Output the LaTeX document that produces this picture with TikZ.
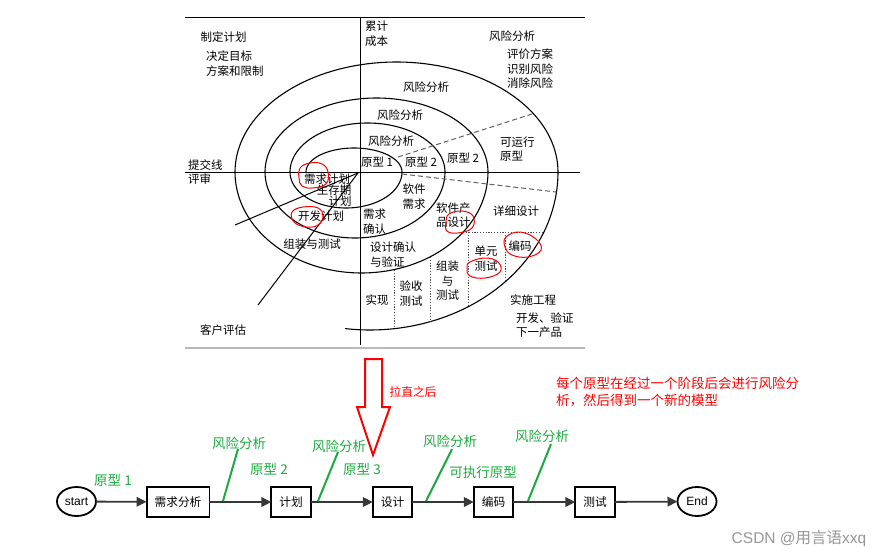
\documentclass[tikz,border=0pt]{standalone}
\usepackage{fontspec}
\setmainfont{Noto Sans CJK SC}
\newfontfamily\arialf{Liberation Sans}
\usetikzlibrary{arrows.meta,shapes.geometric}
\definecolor{mygreen}{RGB}{28,170,64}
\definecolor{arrowgray}{RGB}{55,55,55}
\definecolor{wmgray}{RGB}{150,150,150}
\begin{document}
\begin{tikzpicture}[x=1pt,y=-1pt,
  every node/.style={inner sep=0pt, outer sep=0pt},
  sptext/.style={font=\fontsize{11.5}{14.5}\selectfont, align=left},
  sp/.style={line width=1.1pt, line join=round},
  axisln/.style={line width=1pt},
  dashln/.style={line width=1pt, draw=gray!75!black, dash pattern=on 5pt off 3pt},
  dotln/.style={line width=0.8pt, draw=gray!60!black, dash pattern=on 1.2pt off 1.6pt},
  redmark/.style={draw=red, line width=1pt},
  box/.style={draw, line width=1.8pt, inner xsep=8pt, minimum height=30pt, fill=white, font=\fontsize{11.7}{14}\selectfont},
  term/.style={draw, ellipse, line width=1.8pt, minimum width=39pt, minimum height=29pt, fill=white, font=\arialf\fontsize{12}{14}\selectfont},
  flow/.style={line width=1.8pt, draw=arrowgray, -{Triangle[length=10pt,width=9.5pt]}},
  gline/.style={line width=2pt, draw=mygreen},
  gtext/.style={text=mygreen, font=\fontsize{13.5}{16}\selectfont},
  redtext/.style={text=red, font=\fontsize{13.5}{17}\selectfont, align=left},
]
\useasboundingbox (0,0) rectangle (885,559);

% ---------- spiral figure frame ----------
\draw[axisln] (185,18) -- (585,18);
\draw[axisln] (360,18) -- (360,345);
\draw[axisln] (185,172) -- (580,172);
\draw[line width=2pt, draw=gray!55] (185,348) -- (585,348);

% ---------- spiral ----------
\draw[sp] plot[domain=180:360,samples=40] ({354+48*cos(\x)},{172+24*sin(\x)})
 -- plot[domain=0:180,samples=50] ({346+56*cos(\x)},{172+36*sin(\x)})
 -- plot[domain=180:360,samples=60] ({367.5+77.5*cos(\x)},{172+49*sin(\x)})
 -- plot[domain=0:180,samples=60] ({355+90*cos(\x)},{172+66*sin(\x)})
 -- plot[domain=180:360,samples=70] ({376.5+111.5*cos(\x)},{172+74*sin(\x)})
 -- plot[domain=0:180,samples=70] ({361.5+126.5*cos(\x)},{172+101*sin(\x)})
 -- plot[domain=180:360,samples=80] ({396.5+161.5*cos(\x)},{172+110*sin(\x)})
 -- plot[domain=0:97.6,samples=60] ({370+188*cos(\x)},{172+158*sin(\x)});

% customer evaluation lines
\coordinate (ctr) at (358,173);
\coordinate (ce1) at (235,225);
\coordinate (ce2) at (258,305);
\draw[line width=1pt] (ce1) -- (ctr);
\draw[line width=1pt] (ce2) -- (ctr);

% dashed lines
\coordinate (du1) at (398,157); \coordinate (du2) at (532,114);
\coordinate (dl1) at (402,174); \coordinate (dl2) at (556,192);
\draw[dashln] (du1) -- (du2);
\draw[dashln] (dl1) -- (dl2);

% dotted lines
\coordinate (v1a) at (394,270); \coordinate (v1b) at (394,328.7);
\coordinate (v2a) at (430,257); \coordinate (v2b) at (430,321.7);
\coordinate (v3a) at (468,232); \coordinate (v3b) at (468,306.8);
\coordinate (v4a) at (505,232); \coordinate (v4b) at (505,282);
\coordinate (h1a) at (466,232); \coordinate (h1b) at (544,232);
\draw[dotln] (v1a) -- (v1b);
\draw[dotln] (v2a) -- (v2b);
\draw[dotln] (v3a) -- (v3b);
\draw[dotln] (v4a) -- (v4b);
\draw[dotln] (h1a) -- (h1b);

% ---------- spiral texts ----------
\node[sptext] (t1) at (223.5,37) {制定计划};
\node[sptext, anchor=west] (t2) at (206,63.5) {决定目标\\方案和限制};
\node[sptext, anchor=west] (t3) at (365,33.5) {累计\\成本};
\node[sptext] (t4) at (512,36) {风险分析};
\node[sptext, anchor=west] (t5) at (507,69) {评价方案\\识别风险\\消除风险};
\node[sptext] (r1) at (426,87) {风险分析};
\node[sptext] (r2) at (400,115) {风险分析};
\node[sptext] (r3) at (391,141) {风险分析};
\node[sptext] (p1) at (377,162) {原型 1};
\node[sptext] (p2) at (421,162) {原型 2};
\node[sptext] (p3) at (463,158) {原型 2};
\node[sptext, anchor=west] (p4) at (500,149) {可运行\\原型};
\node[sptext, anchor=west] (t6) at (188,172) {提交线\\评审};
\node[sptext] (l1) at (327,179) {需求计划};
\node[sptext] (l2) at (334,190) {生存期};
\node[sptext] (l3) at (340,201) {计划};
\node[sptext] (l4) at (321,216) {开发计划};
\node[sptext] (l5) at (312,244) {组装与测试};
\node[sptext] (l6) at (223,330) {客户评估};
\node[sptext] (b1) at (414,196.5) {软件\\需求};
\node[sptext, anchor=west] (b2) at (363,221.5) {需求\\确认};
\node[sptext, anchor=west] (b3) at (436,215) {软件产\\品设计};
\node[sptext, anchor=west] (b4) at (370,254.5) {设计确认\\与验证};
\node[sptext] (b5) at (516,211) {详细设计};
\node[sptext, align=center] (b6) at (486,258.5) {单元\\测试};
\node[sptext] (b7) at (520,246) {编码};
\node[sptext, align=center] (b8) at (447.5,281) {组装\\与\\测试};
\node[sptext, align=center] (b9) at (411,293.5) {验收\\测试};
\node[sptext] (b10) at (377,300) {实现};
\node[sptext] (b11) at (533,300) {实施工程};
\node[sptext, anchor=west] (b12) at (516,325) {开发、验证\\下一产品};

% red hand-drawn marks
\draw[redmark] plot[smooth cycle, tension=0.7] coordinates {(300,168) (310,163) (322,164) (328,172) (326,184) (312,188) (302,186) (299,178)};
\draw[redmark] plot[smooth cycle, tension=0.7] coordinates {(292,212) (303,207) (318,208) (323,216) (318,225) (306,227) (294,222)};
\draw[redmark] plot[smooth cycle, tension=0.7] coordinates {(449,214) (462,211) (473,216) (472,228) (458,233) (447,231) (446,222)};
\draw[redmark] plot[smooth cycle, tension=0.7] coordinates {(506,237) (520,232) (536,239) (541,250) (528,257) (512,255) (505,247)};
\draw[redmark] plot[smooth cycle, tension=0.7] coordinates {(470,262) (485,258) (498,262) (500,272) (485,278) (470,276) (467,268)};

% ---------- red arrow and annotations ----------
\draw[draw=red, line width=2pt, line join=miter]
  (365,359) -- (382,359) -- (382,407) -- (390,407) -- (373,455) -- (357,407) -- (365,407) -- cycle;
\node[text=red, font=\fontsize{11.7}{14}\selectfont] (lz) at (413,392) {拉直之后};
\node[redtext, anchor=north west] (note) at (556,377) {每个原型在经过一个阶段后会进行风险分\\析，然后得到一个新的模型};

% ---------- flow chart ----------
\node[term] (start) at (76.5,501.5) {start};
\node[box] (req) at (178,502) {需求分析};
\node[box] (plan) at (291,502) {计划};
\node[box] (des) at (392.5,502) {设计};
\node[box] (code) at (493.5,502) {编码};
\node[box] (test) at (595,502) {测试};
\node[term] (end) at (697,501.5) {End};
\draw[flow] (start) -- (req);
\draw[flow] (req) -- (plan);
\draw[flow] (plan) -- (des);
\draw[flow] (des) -- (code);
\draw[flow] (code) -- (test);
\draw[flow] (test) -- (end);

% green risk-analysis lines and labels
\coordinate (g1a) at (223,501); \coordinate (g1b) at (238,449);
\coordinate (g2a) at (318,501); \coordinate (g2b) at (338,452);
\coordinate (g3a) at (426,501); \coordinate (g3b) at (452,449);
\coordinate (g4a) at (528,501); \coordinate (g4b) at (551,444);
\draw[gline] (g1a) -- (g1b);
\draw[gline] (g2a) -- (g2b);
\draw[gline] (g3a) -- (g3b);
\draw[gline] (g4a) -- (g4b);
\node[gtext] (gr1) at (239,443) {风险分析};
\node[gtext] (gr2) at (339,446) {风险分析};
\node[gtext] (gr3) at (450,441) {风险分析};
\node[gtext] (gr4) at (542,436) {风险分析};
\node[gtext] (gp1) at (113,480) {原型 1};
\node[gtext] (gp2) at (269,469) {原型 2};
\node[gtext] (gp3) at (362,469) {原型 3};
\node[gtext] (gp4) at (483,472) {可执行原型};

% watermark
\node[text=wmgray, font=\fontsize{15.5}{17}\selectfont] (wm) at (799,539) {{\arialf CSDN @}用言语{\arialf xxq}};
\end{tikzpicture}
\end{document}
